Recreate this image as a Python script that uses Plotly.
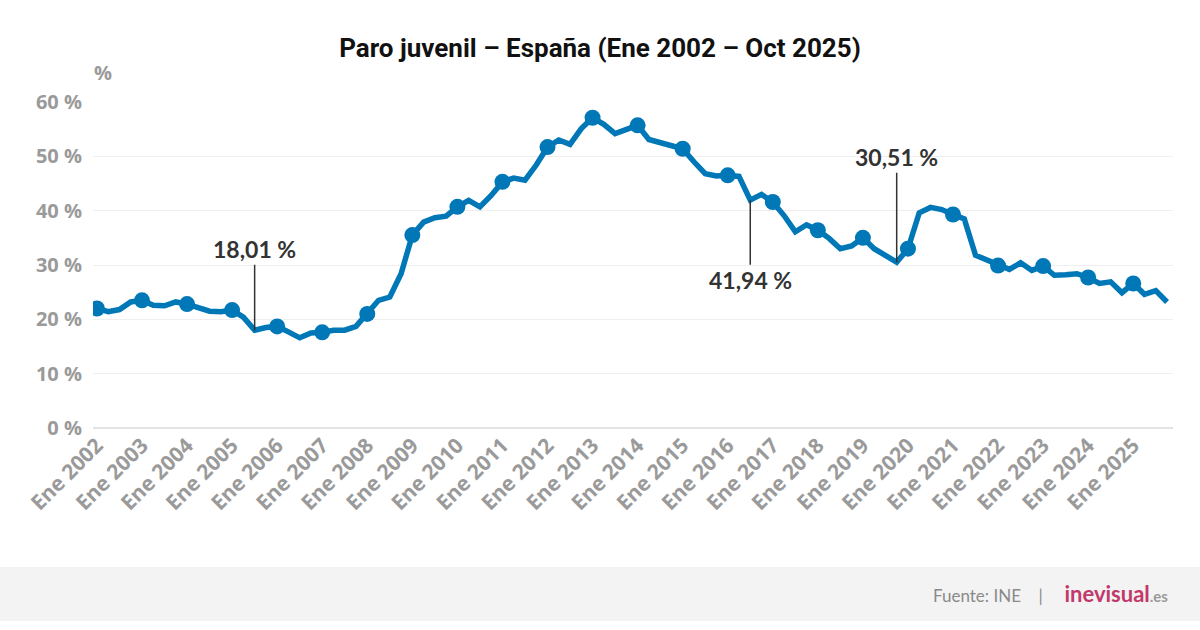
import plotly.graph_objects as go

years = list(range(2002, 2026))
quarters = ["Ene", "Abr", "Jul", "Oct"]
periods = [f"{q} {y}" for y in years for q in quarters]

paro = [
    22.0, 21.4, 21.8, 23.2,   # 2002
    23.5, 22.6, 22.5, 23.2,   # 2003
    22.8, 22.1, 21.5, 21.4,   # 2004
    21.7, 20.4, 18.01, 18.5,  # 2005
    18.7, 17.7, 16.6, 17.5,   # 2006
    17.6, 18.0, 18.0, 18.7,   # 2007
    21.0, 23.5, 24.1, 28.4,   # 2008
    35.5, 37.9, 38.7, 39.0,   # 2009
    40.7, 41.9, 40.7, 42.8,   # 2010
    45.3, 46.0, 45.6, 48.4,   # 2011
    51.7, 53.0, 52.2, 55.1,   # 2012
    57.1, 55.9, 54.2, 54.9,   # 2013
    55.7, 53.1, 52.5, 51.9,   # 2014
    51.4, 49.0, 46.8, 46.4,   # 2015
    46.5, 46.3, 41.94, 43.0,  # 2016
    41.6, 39.1, 36.1, 37.4,   # 2017
    36.4, 34.9, 33.0, 33.5,   # 2018
    35.0, 33.0, 31.8, 30.51,  # 2019
    33.0, 39.6, 40.6, 40.2,   # 2020
    39.3, 38.5, 31.8, 30.9,   # 2021
    29.9, 29.2, 30.4, 29.0,   # 2022
    29.8, 28.1, 28.2, 28.4,   # 2023
    27.7, 26.6, 26.9, 24.9,   # 2024
    26.6, 24.6, 25.3, 23.2,   # 2025
]

y_ticks = [0, 10, 20, 30, 40, 50, 60]
y_tick_labels = [f"{v} %" for v in y_ticks]
x_tick_idx = [i for i, p in enumerate(periods) if p.startswith("Ene")]
x_tick_labels = [periods[i] for i in x_tick_idx]

highlights = ["Jul 2005", "Jul 2016", "Oct 2019"]
highlight_offsets = [-81, 80, -105]

x = list(range(len(periods)))
mk_x = [i for i in x if periods[i].startswith("Ene")]
mk_y = [paro[i] for i in mk_x]

BLUE = "#0077b6"
GRAY = "#9a9a9a"
FONT = "Open Sans, sans-serif"

fig = go.Figure()
fig.add_trace(go.Scatter(
    x=x, y=paro, mode="lines",
    line=dict(color=BLUE, width=5.5),
    hoverinfo="skip", showlegend=False,
))
fig.add_trace(go.Scatter(
    x=mk_x, y=mk_y, mode="markers",
    marker=dict(size=16, color=BLUE, opacity=1, line=dict(width=0)),
    hoverinfo="skip", showlegend=False,
))

for lab, off in zip(highlights, highlight_offsets):
    i = periods.index(lab)
    v = paro[i]
    fig.add_annotation(
        x=i, y=v, xref="x", yref="y",
        text=f"<b>{v:.2f}".replace(".", ",") + " %</b>",
        showarrow=True, arrowhead=0, arrowwidth=1.5, arrowcolor="#333333",
        ax=0, ay=off, standoff=0,
        font=dict(family="Lato, sans-serif", size=23, color="#333333"),
    )

# "%" unit label
fig.add_annotation(
    xref="paper", yref="paper", x=10 / 1080, y=1 + 30 / 326,
    xanchor="center", yanchor="middle",
    text="<b>%</b>", showarrow=False,
    font=dict(family=FONT, size=20, color=GRAY),
)

# footer band
fig.add_shape(
    type="rect", xref="paper", yref="paper",
    x0=-93 / 1080, x1=1 + 27 / 1080, y0=(428 - 621) / 326, y1=(428 - 567) / 326,
    fillcolor="#f3f3f3", line=dict(width=0), layer="below",
)
fig.add_annotation(
    xref="paper", yref="paper", x=(1170 - 93) / 1080, y=(428 - 593) / 326,
    xanchor="right", yanchor="middle", showarrow=False,
    text=("<span style='color:#8a8a8a'>Fuente: INE&nbsp;&nbsp;&nbsp;&nbsp;|&nbsp;&nbsp;&nbsp;&nbsp;&nbsp;</span>"
          "<span style='color:#c2386a;font-size:22px'><b>inevisual</b></span>"
          "<span style='color:#9a9a9a;font-size:15px'><b>.es</b></span>"),
    font=dict(family="Lato, sans-serif", size=17, color="#8a8a8a"),
)

fig.update_layout(
    width=1200, height=630,
    margin=dict(l=93, r=27, t=102, b=202),
    paper_bgcolor="white", plot_bgcolor="white",
    title=dict(
        text="<b>Paro juvenil – España (Ene 2002 – Oct 2025)</b>",
        x=0.5, xanchor="center", y=1 - 48 / 630, yanchor="middle",
        font=dict(family="Roboto, sans-serif", size=26, color="#111111"),
    ),
    xaxis=dict(
        range=[-0.35, len(periods) - 1 + 0.53],
        tickvals=x_tick_idx, ticktext=[f"<b>{t}</b>" for t in x_tick_labels],
        tickangle=-45, showgrid=False, zeroline=False, showline=False,
        ticks="", tickfont=dict(family=FONT, size=21, color=GRAY),
    ),
    yaxis=dict(
        range=[0, 60], tickvals=y_ticks,
        ticktext=[f"<b>{t}</b>" for t in y_tick_labels],
        showgrid=True, gridcolor="#efefef", gridwidth=1,
        zeroline=True, zerolinecolor="#e3e3e3", zerolinewidth=2,
        ticks="", ticklabelstandoff=10,
        tickfont=dict(family=FONT, size=20, color=GRAY),
    ),
)

fig.write_html("out.html")
